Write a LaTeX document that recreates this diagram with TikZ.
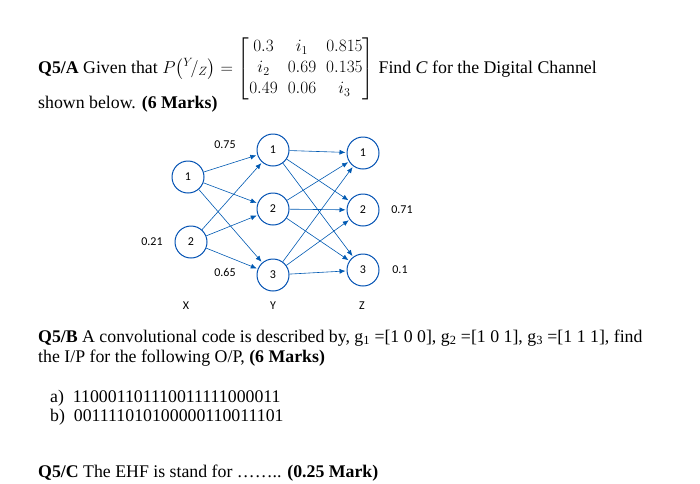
\documentclass[tikz,border=0pt]{standalone}
\usepackage{amsmath}
\usepackage{fontspec}
\usetikzlibrary{arrows.meta}
\setmainfont{Liberation Serif}
\newfontfamily\diag{Carlito}
\begin{document}
\begin{tikzpicture}[x=1pt,y=-1pt,
  st/.style={circle,draw=blue!55!cyan!70!black,line width=1pt,minimum size=32pt,inner sep=0pt,font=\diag\fontsize{12}{14}\selectfont},
  ar/.style={draw=blue!50!cyan!70!black,line width=0.6pt,-{Latex[length=6pt,width=5pt]},shorten >=1pt},
  lb/.style={font=\diag\fontsize{12}{14}\selectfont},
  tx/.style={anchor=base west,inner sep=0pt,font=\fontsize{17.8}{21}\selectfont}]
\useasboundingbox (0,0) rectangle (700,483);
\node[tx] (l1) at (38,73) {\textbf{Q5/A} Given that $P\big({}^{Y}\!/_{Z}\big)=\begin{bmatrix}0.3 & i_1 & 0.815\\ i_2 & 0.69 & 0.135\\ 0.49 & 0.06 & i_3\end{bmatrix}$ Find \textit{C} for the Digital Channel};
\node[tx] (l2) at (38,108) {shown below. \textbf{(6 Marks)}};
\node[st] (x1) at (188,177) {1};
\node[st] (x2) at (191,242) {2};
\node[st] (y1) at (273,150) {1};
\node[st] (y2) at (273,209) {2};
\node[st] (y3) at (273,275) {3};
\node[st] (z1) at (363,153) {1};
\node[st] (z2) at (363,210) {2};
\node[st] (z3) at (363,270) {3};
\foreach \a in {x1,x2} \foreach \b in {y1,y2,y3} \draw[ar] (\a) -- (\b);
\foreach \a in {y1,y2,y3} \foreach \b in {z1,z2,z3} \draw[ar] (\a) -- (\b);
\node[lb] (p1) at (225,145) {0.75};
\node[lb] (p2) at (152,242) {0.21};
\node[lb] (p3) at (225,272) {0.65};
\node[lb] (p4) at (402,210) {0.71};
\node[lb] (p5) at (400,270) {0.1};
\node[lb] (lx) at (186,306) {X};
\node[lb] (ly) at (273,306) {Y};
\node[lb] (lz) at (362,306) {Z};
\node[tx] (b1) at (38,342) {\textbf{Q5/B} A convolutional code is described by, g\textsubscript{1} =[1 0 0], g\textsubscript{2} =[1 0 1], g\textsubscript{3} =[1 1 1], find};
\node[tx] (b2) at (38,362) {the I/P for the following O/P, \textbf{(6 Marks)}};
\node[tx] (a) at (50,402) {a)\ \ 110001101110011111000011};
\node[tx] (b) at (50,421) {b)\ \ 001111010100000110011101};
\node[tx] (c1) at (38,477) {\textbf{Q5/C} The EHF is stand for \dots\dots.. \textbf{(0.25 Mark)}};
\end{tikzpicture}
\end{document}
